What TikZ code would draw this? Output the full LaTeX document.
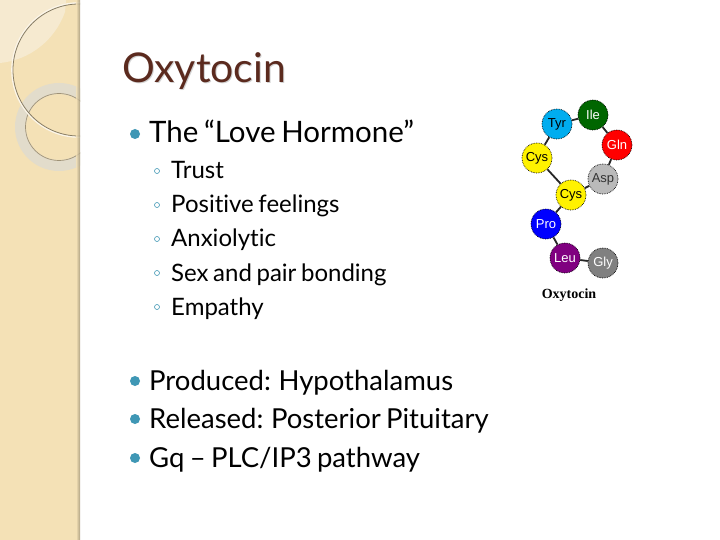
\documentclass[tikz,border=0pt]{standalone}
\usepackage{fontspec}
\setmainfont[Ligatures=NoCommon,WordSpace=0.75]{Lato}
\newfontfamily\aminofont{Liberation Sans}
\newfontfamily\capfont{Liberation Serif}
\definecolor{panel}{HTML}{F4E1B6}
\definecolor{panellight}{HTML}{F6EAD0}
\definecolor{panelring}{HTML}{E2DCCB}
\definecolor{titlecol}{HTML}{5B2A1E}
\definecolor{dotcol}{HTML}{3F97B5}
\definecolor{leucol}{HTML}{800080}
\tikzset{
 amino/.style={circle,draw=black,densely dotted,line width=0.7pt,minimum size=30pt,inner sep=0pt,font=\aminofont\fontsize{13}{13}\selectfont},
 mainitem/.style={anchor=base west,inner sep=0pt,font=\fontsize{27.5}{30}\selectfont},
 subitem/.style={anchor=base west,inner sep=0pt,font=\fontsize{24}{28}\selectfont},
 bigdot/.style={circle,fill=dotcol,inner sep=0pt,minimum size=10pt},
 smalldot/.style={circle,draw=dotcol,line width=0.6pt,inner sep=0pt,minimum size=5pt},
 bond/.style={line width=1.8pt,black!85}
}
\begin{document}
\begin{tikzpicture}[x=1pt,y=-1pt]
 \useasboundingbox (0,0) rectangle (720,540);
 \fill[white] (0,0) rectangle (720,540);
 % left panel
 \begin{scope}
  \clip (0,0) rectangle (80,540);
  \fill[panel] (0,0) rectangle (80,540);
  \fill[panellight] (0,0)--(0,63) .. controls (30,60) and (55,40) .. (65,12) --(66,0)--cycle;
  \fill[panelring,even odd rule] (59,127) circle (44) (59,127) circle (33);
  \draw[black!35!panel,line width=0.7pt] (59,127) circle (33.5);
  \draw[white!70!panel,line width=1.6pt] (79,70) circle (67);
  \draw[black!45!panel,line width=0.8pt] (79,70) circle (66);
  \shade[left color=panel,right color=black!35!panel,opacity=0.8] (76,0) rectangle (80,540);
 \end{scope}
 % title and list
 \node[anchor=base west,inner sep=0pt,text=black!35,opacity=0.5,font=\fontsize{41}{44}\selectfont] (shadow) at (123,84) {Oxytocin};
 \node[anchor=base west,inner sep=0pt,text=titlecol,font=\fontsize{41}{44}\selectfont] (title) at (122,83) {Oxytocin};
 \node[mainitem,font=\fontsize{29.5}{30}\selectfont] (love) at (149,143) {The “Love Hormone”};
 \node[bigdot] (dotlove) at (135,134) {};
 \foreach \y/\t [count=\i] in {179/Trust,213/Positive feelings,247/Anxiolytic,281/Sex and pair bonding,315/Empathy}{
  \node[subitem] (sub\i) at (171,\y) {\t};
  \node[smalldot] (ring\i) at (157,\y-8) {};
 }
 \foreach \y/\t [count=\i] in {390/Produced: Hypothalamus,428/Released: Posterior Pituitary,467/{Gq – PLC/IP3 pathway}}{
  \node[mainitem] (item\i) at (149,\y) {\t};
  \node[bigdot] (dot\i) at (135,\y-9) {};
 }
 % the peptide
 \coordinate (cile) at (593,115);
 \coordinate (ctyr) at (557,124);
 \coordinate (cgln) at (617,145);
 \coordinate (ccysa) at (537,158);
 \coordinate (casp) at (603,179);
 \coordinate (ccysb) at (571,195);
 \coordinate (cpro) at (546,224);
 \coordinate (cleu) at (565,258);
 \coordinate (cgly) at (603,263);
 \node[amino,fill=yellow] (cysa) at (ccysa) {Cys};
 \node[amino,fill=cyan] (tyr) at (ctyr) {Tyr};
 \node[amino,fill=green!40!black,text=white] (ile) at (cile) {Ile};
 \node[amino,fill=red,text=white] (gln) at (cgln) {Gln};
 \node[amino,fill=black!27,text=black!80] (asp) at (casp) {Asp};
 \node[amino,fill=yellow] (cysb) at (ccysb) {Cys};
 \node[amino,fill=blue,text=white] (pro) at (cpro) {Pro};
 \node[amino,fill=leucol,text=white] (leu) at (cleu) {Leu};
 \node[amino,fill=black!50,text=white] (gly) at (cgly) {Gly};
 \foreach \a/\b in {cysa/tyr,tyr/ile,ile/gln,gln/asp,asp/cysb,cysb/cysa,cysb/pro,pro/leu,leu/gly}
  \draw[bond] (\a)--(\b);
 \node[inner sep=0pt,font=\capfont\bfseries\fontsize{14}{14}\selectfont] (caption) at (569,295) {Oxytocin};
\end{tikzpicture}
\end{document}
